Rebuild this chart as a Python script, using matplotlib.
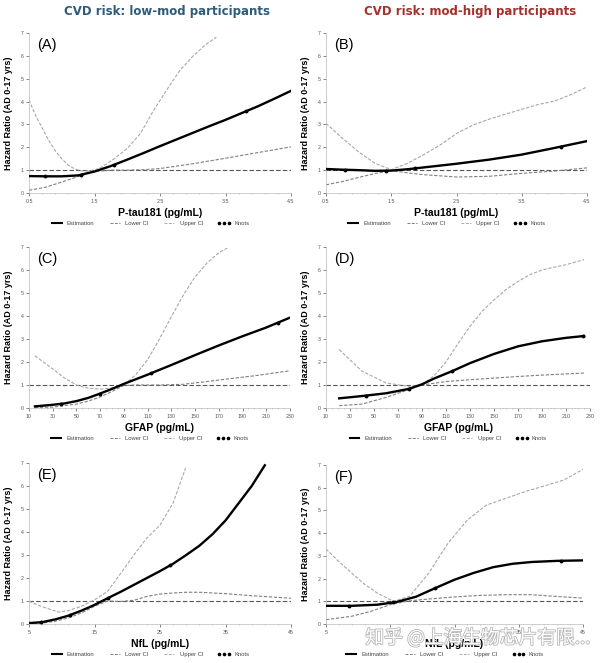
import numpy as np
import matplotlib
matplotlib.use("Agg")
import matplotlib.pyplot as plt
from matplotlib.lines import Line2D
import matplotlib.patheffects as pe

plt.rcParams["font.family"] = ["Liberation Sans", "DejaVu Sans"]

# ---- data ----
# (A) P-tau181, low-mod
a_est_x = [0.5, 0.75, 1.0, 1.25, 1.5, 1.75, 2.0, 2.25, 2.5, 2.75, 3.0, 3.25, 3.5, 3.75, 4.0, 4.25, 4.5]
a_est_y = [0.74, 0.73, 0.73, 0.77, 0.94, 1.18, 1.46, 1.75, 2.05, 2.34, 2.63, 2.92, 3.2, 3.5, 3.8, 4.13, 4.47]
a_up_x = [0.5, 0.6, 0.7, 0.8, 0.9, 1.0, 1.1, 1.2, 1.3, 1.4, 1.5, 1.6, 1.7, 1.8, 1.9, 2.0, 2.2, 2.4, 2.6, 2.8, 3.0, 3.2, 3.36]
a_up_y = [4.07, 3.4, 2.85, 2.3, 1.85, 1.5, 1.22, 1.05, 0.97, 0.96, 1.0, 1.12, 1.3, 1.5, 1.72, 1.95, 2.6, 3.6, 4.5, 5.35, 5.98, 6.5, 6.82]
a_lo_x = [0.5, 0.75, 1.0, 1.25, 1.5, 1.75, 2.0, 2.25, 2.5, 3.0, 3.5, 4.0, 4.5]
a_lo_y = [0.12, 0.25, 0.48, 0.72, 0.94, 1.0, 1.0, 1.02, 1.07, 1.28, 1.52, 1.77, 2.02]
a_knots = [0.74, 1.3, 1.8, 3.82]

# (B) P-tau181, mod-high
b_est_x = [0.5, 0.75, 1.0, 1.25, 1.5, 1.75, 2.0, 2.5, 3.0, 3.5, 4.0, 4.5]
b_est_y = [1.05, 1.02, 1.0, 0.97, 0.98, 1.04, 1.12, 1.28, 1.46, 1.68, 1.97, 2.27]
b_up_x = [0.5, 0.75, 1.0, 1.25, 1.5, 1.75, 2.0, 2.25, 2.5, 2.75, 3.0, 3.25, 3.5, 3.75, 4.0, 4.25, 4.5]
b_up_y = [3.05, 2.4, 1.8, 1.3, 1.02, 1.3, 1.68, 2.1, 2.6, 2.97, 3.23, 3.45, 3.66, 3.87, 4.02, 4.3, 4.64]
b_lo_x = [0.5, 0.75, 1.0, 1.25, 1.5, 1.75, 2.0, 2.5, 3.0, 3.5, 4.0, 4.5]
b_lo_y = [0.36, 0.5, 0.68, 0.85, 0.98, 0.88, 0.8, 0.7, 0.73, 0.86, 0.96, 1.1]
b_knots = [0.79, 1.42, 1.86, 4.1]

# (C) GFAP, low-mod
c_est_x = [15, 30, 40, 50, 60, 70, 80, 90, 100, 110, 130, 150, 170, 190, 210, 230]
c_est_y = [0.07, 0.14, 0.2, 0.3, 0.44, 0.63, 0.83, 1.05, 1.25, 1.45, 1.87, 2.3, 2.72, 3.12, 3.5, 3.93]
c_up_x = [15, 30, 40, 50, 60, 70, 80, 90, 100, 110, 120, 130, 140, 150, 160, 170, 177]
c_up_y = [2.27, 1.7, 1.3, 1.0, 0.86, 0.82, 0.87, 1.0, 1.45, 2.1, 3.0, 3.97, 4.9, 5.7, 6.3, 6.75, 6.95]
c_lo_x = [15, 30, 50, 60, 70, 80, 90, 100, 120, 140, 160, 180, 200, 230]
c_lo_y = [0.02, 0.04, 0.17, 0.3, 0.48, 0.72, 0.98, 1.0, 1.0, 1.03, 1.15, 1.28, 1.4, 1.62]
c_knots = [37, 69.6, 113, 220]

# (D) GFAP, mod-high
d_est_x = [21, 40, 60, 79, 90, 100, 115, 130, 150, 170, 190, 210, 225]
d_est_y = [0.42, 0.52, 0.64, 0.83, 1.03, 1.28, 1.6, 1.95, 2.35, 2.68, 2.9, 3.05, 3.13]
d_up_x = [21, 40, 60, 79, 90, 100, 110, 120, 130, 140, 150, 160, 170, 180, 190, 200, 210, 225]
d_up_y = [2.54, 1.6, 1.09, 0.94, 1.01, 1.4, 2.0, 2.8, 3.55, 4.2, 4.7, 5.15, 5.5, 5.8, 6.0, 6.12, 6.23, 6.45]
d_lo_x = [21, 40, 60, 79, 90, 110, 130, 150, 170, 190, 225]
d_lo_y = [0.1, 0.17, 0.46, 0.8, 1.0, 1.15, 1.23, 1.3, 1.37, 1.43, 1.52]
d_knots = [43, 79, 115, 224]

# (E) NfL, low-mod
e_est_x = [5, 7, 9, 11, 13, 15, 17, 19, 21, 23, 25, 27, 29, 31, 33, 35, 37, 39, 41]
e_est_y = [0.04, 0.08, 0.2, 0.36, 0.58, 0.83, 1.12, 1.4, 1.7, 2.0, 2.3, 2.62, 3.0, 3.4, 3.9, 4.5, 5.25, 6.0, 6.9]
e_up_x = [5, 7, 9.5, 11, 13, 15, 17, 19, 21, 23, 25, 27, 28.9]
e_up_y = [0.99, 0.75, 0.52, 0.58, 0.77, 1.05, 1.42, 2.2, 3.0, 3.74, 4.3, 5.26, 6.78]
e_lo_x = [5, 7, 9, 11, 13, 15, 17, 19, 21, 23, 25, 27, 29, 31, 35, 39, 45]
e_lo_y = [0.0, 0.04, 0.12, 0.26, 0.48, 0.77, 1.0, 0.98, 1.03, 1.2, 1.3, 1.35, 1.38, 1.38, 1.32, 1.23, 1.12]
e_knots = [6.8, 11.2, 17, 26.6]

# (F) NfL, mod-high
f_est_x = [5, 9, 13, 16, 19, 22, 25, 28, 31, 34, 37, 41, 45]
f_est_y = [0.8, 0.8, 0.85, 0.97, 1.2, 1.58, 1.95, 2.25, 2.5, 2.65, 2.73, 2.78, 2.8]
f_up_x = [5, 7, 9, 11, 13, 15.5, 18, 21, 24, 27, 30, 33, 36, 39, 42, 45]
f_up_y = [3.3, 2.75, 2.24, 1.75, 1.36, 1.0, 1.22, 2.24, 3.56, 4.58, 5.24, 5.53, 5.83, 6.08, 6.34, 6.81]
f_lo_x = [5, 9, 12, 15, 18, 21, 25, 29, 33, 37, 41, 45]
f_lo_y = [0.19, 0.34, 0.56, 0.85, 1.02, 1.1, 1.19, 1.26, 1.29, 1.29, 1.21, 1.14]
f_knots = [8.6, 15.5, 22, 41.6]

ptau_ticks = [0.5, 1.5, 2.5, 3.5, 4.5]
gfap_ticks = [10, 30, 50, 70, 90, 110, 130, 150, 170, 190, 210, 230]
nfl_ticks = [5, 15, 25, 35, 45]

fig = plt.figure(figsize=(6, 6.63), dpi=100)

# pixel boxes (left, top, right, bottom) from the reference
boxes = {
    "A": (29, 33, 291, 193), "B": (326, 33, 587, 193),
    "C": (29, 247, 290, 408), "D": (326, 247, 590, 408),
    "E": (29, 463, 291, 624), "F": (326, 465, 583, 624),
}

panels = [
    ("A", a_est_x, a_est_y, a_up_x, a_up_y, a_lo_x, a_lo_y, a_knots, ptau_ticks, "P-tau181 (pg/mL)"),
    ("B", b_est_x, b_est_y, b_up_x, b_up_y, b_lo_x, b_lo_y, b_knots, ptau_ticks, "P-tau181 (pg/mL)"),
    ("C", c_est_x, c_est_y, c_up_x, c_up_y, c_lo_x, c_lo_y, c_knots, gfap_ticks, "GFAP (pg/mL)"),
    ("D", d_est_x, d_est_y, d_up_x, d_up_y, d_lo_x, d_lo_y, d_knots, gfap_ticks, "GFAP (pg/mL)"),
    ("E", e_est_x, e_est_y, e_up_x, e_up_y, e_lo_x, e_lo_y, e_knots, nfl_ticks, "NfL (pg/mL)"),
    ("F", f_est_x, f_est_y, f_up_x, f_up_y, f_lo_x, f_lo_y, f_knots, nfl_ticks, "NfL (pg/mL)"),
]

W, H = 600, 663
for name, ex, ey, ux, uy, lx, ly, knots, xt, xlab in panels:
    l, t, r, b = boxes[name]
    ax = fig.add_axes([l / W, 1 - b / H, (r - l) / W, (b - t) / H])
    ax.axhline(1, color="#555555", lw=0.8, ls=(0, (4, 2)), zorder=1)
    ax.plot(ux, uy, color="#a8a8a8", lw=0.8, ls=(0, (3, 1.5)), zorder=2)
    ax.plot(lx, ly, color="#808080", lw=0.8, ls=(0, (3, 1.5)), zorder=2)
    ax.plot(ex, ey, color="black", lw=1.7, zorder=3)
    ky = np.interp(knots, ex, ey)
    ax.plot(knots, ky, "o", color="black", ms=1.8, zorder=4)

    ax.set_xlim(xt[0], xt[-1])
    ax.set_ylim(0, 7)
    ax.set_xticks(xt)
    ax.set_yticks(range(8))
    ax.tick_params(labelsize=3.8, length=2, width=0.5, colors="#555555", pad=2)
    ax.minorticks_on()
    ax.tick_params(which="minor", length=1, width=0.4, colors="#999999")
    ax.yaxis.set_minor_locator(plt.NullLocator())
    for s in ["top", "right"]:
        ax.spines[s].set_visible(False)
    for s in ["left", "bottom"]:
        ax.spines[s].set_color("#bbbbbb")
        ax.spines[s].set_linewidth(0.5)
    ax.set_ylabel("Hazard Ratio (AD 0-17 yrs)", fontsize=6.5, fontweight="bold", labelpad=5)
    ax.set_xlabel(xlab, fontsize=7.5, fontweight="bold", labelpad=3)
    ax.text(0.03, 0.97, "(" + name + ")", transform=ax.transAxes, fontsize=10.5,
            va="top", ha="left")

    handles = [
        Line2D([], [], color="black", lw=1.5),
        Line2D([], [], color="#808080", lw=0.7, ls=(0, (3, 1.5))),
        Line2D([], [], color="#a8a8a8", lw=0.7, ls=(0, (3, 1.5))),
        Line2D([], [], color="black", ls="none", marker="o", ms=1.6),
    ]
    ax.legend(handles, ["Estimation", "Lower CI", "Upper CI", "Knots"], loc="center",
              bbox_to_anchor=(0.46, -0.19), ncol=4, frameon=False, fontsize=4.2,
              handlelength=2.3, numpoints=3, columnspacing=2.4, handletextpad=0.6,
              borderpad=0.1, labelcolor="#444444")

fig.text(167 / W, 1 - 12 / H, "CVD risk: low-mod participants", fontsize=8.5,
         fontweight="bold", color="#2f5a78", ha="center", va="center",
         family=["DejaVu Sans"])
fig.text(470 / W, 1 - 12 / H, "CVD risk: mod-high participants", fontsize=8.5,
         fontweight="bold", color="#a3302b", ha="center", va="center",
         family=["DejaVu Sans"])

# watermark on the bottom right panel
wm = fig.text(478 / W, 1 - 638 / H, "知乎 @上海生物芯片有限...", fontsize=13.5,
              color="white", ha="center", va="center",
              family=["Noto Sans CJK SC", "DejaVu Sans"])
wm.set_path_effects([pe.withStroke(linewidth=1.2, foreground="#b8b8b8")])

fig.savefig("out.png", dpi=100)
